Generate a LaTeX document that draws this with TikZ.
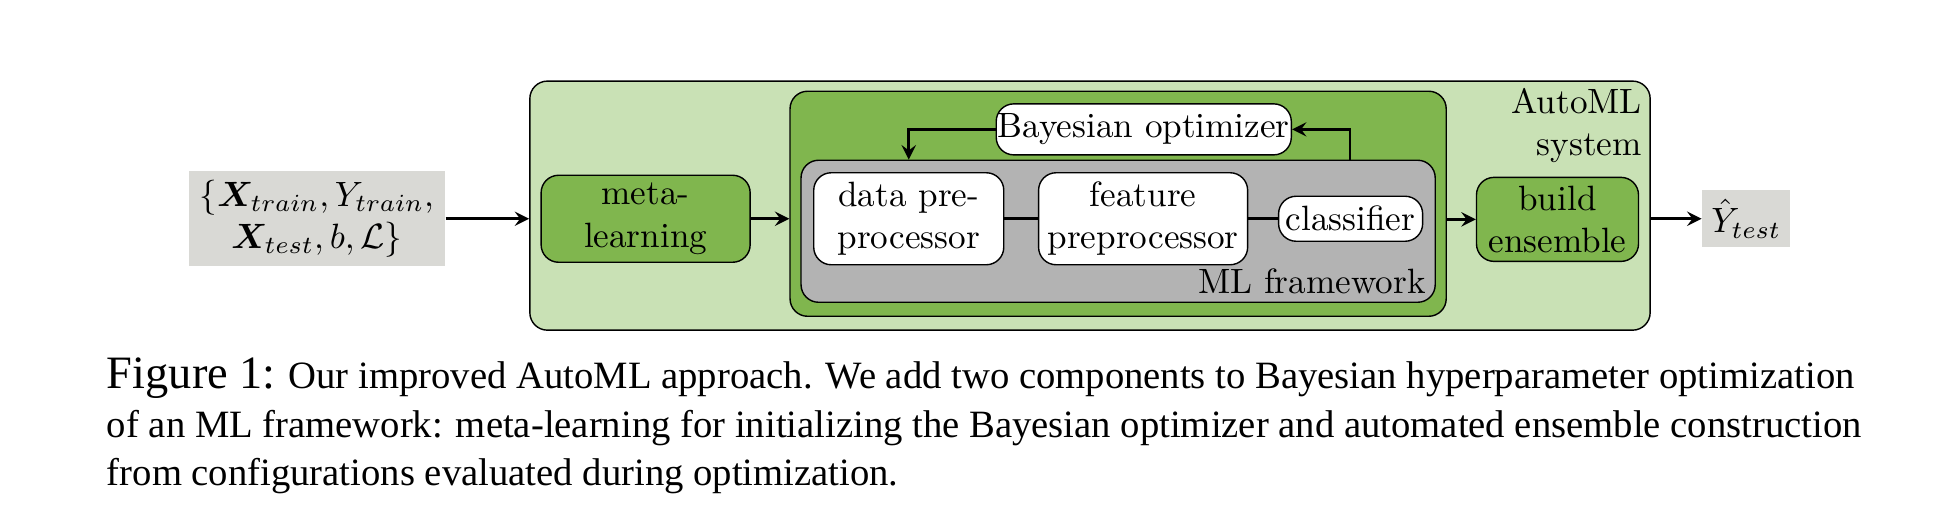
\documentclass[tikz,border=0pt]{standalone}
\usepackage{amsmath,amssymb,bm,xcolor}
\usepackage{fontspec}
\newfontfamily\capfont{Liberation Serif}
\definecolor{lightgreen}{HTML}{C9E1B5}
\definecolor{midgreen}{HTML}{80B64E}
\definecolor{fwgray}{HTML}{B3B3B3}
\definecolor{datagray}{HTML}{D9D9D5}
\tikzset{
  box/.style={draw,rounded corners=5pt,align=center,inner sep=0pt},
  io/.style={fill=datagray,align=center,inner sep=0pt},
  flow/.style={->,thick,>=stealth},
}
\begin{document}
\begin{tikzpicture}[x=0.0125cm,y=-0.0125cm,font=\fontsize{10}{12}\selectfont]
\useasboundingbox (0,0) rectangle (1549.6,406.4);
% containers
\node (automl) [box,fill=lightgreen,minimum width=11.2cm,minimum height=2.49cm] at (872,164.5) {};
\node[anchor=north east,align=right,inner sep=0pt] at (1314,70) {AutoML\\system};
\node (outer) [box,fill=midgreen,minimum width=6.56cm,minimum height=2.25cm] at (894.5,163) {};
\node (mlfw) [box,fill=fwgray,minimum width=6.34cm,minimum height=1.42cm] at (894.5,185) {};
\node[anchor=south east,inner sep=0pt] at (1141,236) {ML framework};
% components
\node (bayes) [box,fill=white,minimum width=2.95cm,minimum height=0.51cm] at (915,103.5) {Bayesian optimizer};
\node (prep)  [box,fill=white,minimum width=1.9cm,minimum height=0.92cm] at (727,175) {data pre-\\processor};
\node (feat)  [box,fill=white,minimum width=2.09cm,minimum height=0.92cm] at (914.5,175) {feature\\preprocessor};
\node (clf)   [box,fill=white,minimum width=1.44cm,minimum height=0.45cm] at (1080.5,175) {classifier};
\node (meta)  [box,fill=midgreen,minimum width=2.09cm,minimum height=0.87cm] at (516.5,175) {meta-\\learning};
\node (ens)   [box,fill=midgreen,minimum width=1.62cm,minimum height=0.84cm] at (1246,175.5) {build\\ensemble};
\node (input) [io,minimum width=2.56cm,minimum height=0.95cm] at (253.5,175)
  {$\{\bm{X}_{train},Y_{train},$\\$\bm{X}_{test},b,\mathcal{L}\}$};
\node (output) [io,minimum width=0.88cm,minimum height=0.57cm] at (1397,175) {$\hat{Y}_{test}$};
\coordinate (fbR) at (1080,102);
\coordinate (fbL) at (727,102);

\draw[flow] (input) -- (automl.west |- input);
\draw[flow] (meta) -- (outer.west |- meta);
\draw[thick] (prep) -- (feat) -- (clf);
\draw[flow] (mlfw.north -| fbR) |- (bayes.east);
\draw[flow] (bayes.west) -| (mlfw.north -| fbL);
\draw[flow] (outer.east |- ens) -- (ens);
\draw[flow] (automl.east |- output) -- (output);

% caption
\node[anchor=north west,align=left,inner sep=0pt,font=\capfont\fontsize{11}{13.8}\selectfont] (cap) at (85,286)
  {{\fontsize{13.2}{13.8}\selectfont Figure 1:} Our improved AutoML approach. We add two components to Bayesian hyperparameter optimization\\
   of an ML framework: meta-learning for initializing the Bayesian optimizer and automated ensemble construction\\
   from configurations evaluated during optimization.};
\end{tikzpicture}
\end{document}
